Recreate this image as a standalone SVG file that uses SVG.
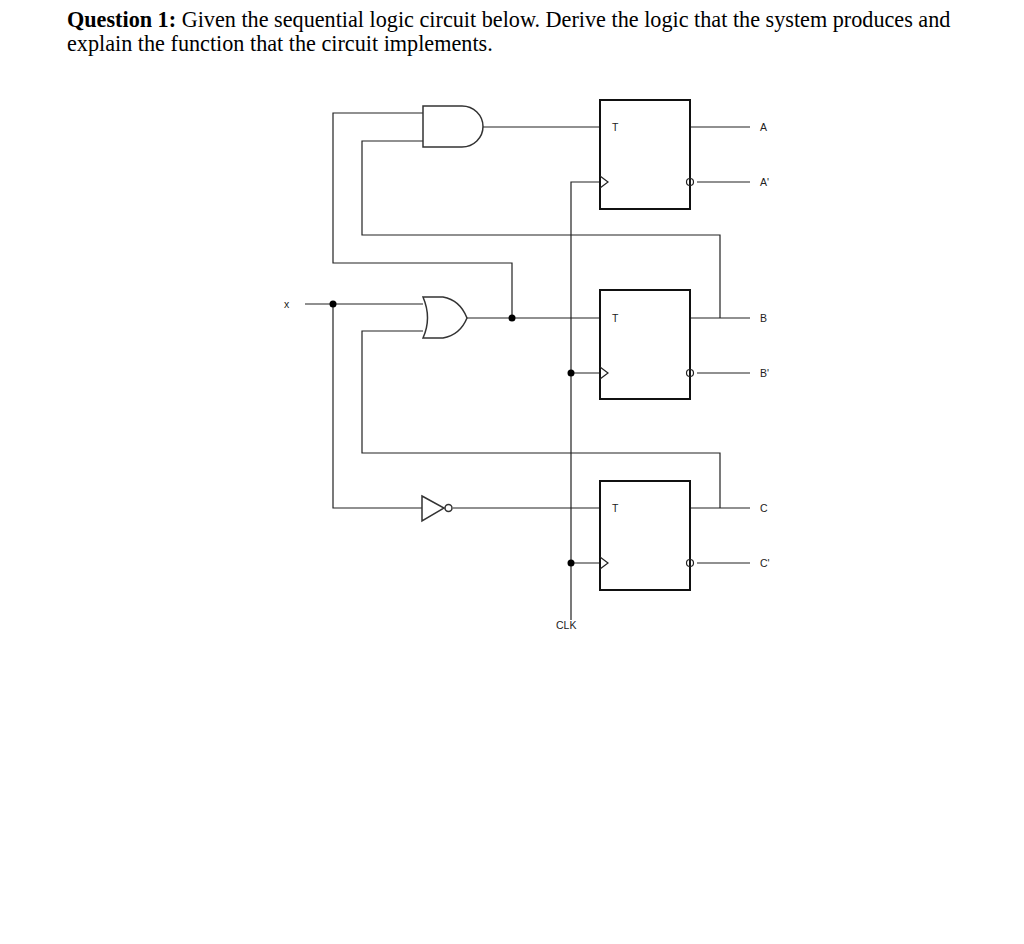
<svg xmlns="http://www.w3.org/2000/svg" width="1024" height="944" viewBox="0 0 1024 944">
<style>
.w{stroke:#222;stroke-width:1.2;fill:none}
.ff{stroke:#111;stroke-width:2;fill:#fff}
.g{stroke:#333;stroke-width:1.5;fill:#fff}
.l{font-family:"Liberation Sans",Arial,sans-serif;font-size:10.5px;fill:#222}
.t{font-family:"Liberation Serif","Times New Roman",serif;font-size:22.2px;fill:#000}
</style>
<rect width="1024" height="944" fill="#fff"/>
<text class="t" x="67" y="27"><tspan font-weight="bold">Question 1:</tspan> Given the sequential logic circuit below. Derive the logic that the system produces and</text>
<text class="t" x="67" y="51">explain the function that the circuit implements.</text>
<g id="connectors">
<path class="w" d="M423 113H333V263H512V318"/>
<path class="w" d="M423 141H362V235H720V318"/>
<path class="w" d="M483 127H600"/>
<path class="w" d="M305 304H423"/>
<path class="w" d="M333 304V508H422"/>
<path class="w" d="M423 331H362V453H720V508"/>
<path class="w" d="M467 318H600"/>
<path class="w" d="M453 508H600"/>
<path class="w" d="M571 620V182H600"/>
<path class="w" d="M571 373H600M571 563H600"/>
<path class="w" d="M690 127H750M697 182H750M690 318H750M697 373H750M690 508H750M697 563H750"/>
<circle cx="333" cy="304" r="3.5" fill="#000"/>
<circle cx="512" cy="318" r="3.5" fill="#000"/>
<circle cx="571" cy="373" r="3.5" fill="#000"/>
<circle cx="571" cy="563" r="3.5" fill="#000"/>
</g>
<g id="and"><path class="g" d="M423 106H462A21 20.5 0 0 1 462 147H423Z"/></g>
<g id="or"><path class="g" d="M423 297H443Q460 300 467 318Q460 335 443 338H423Q432 318 423 297Z"/></g>
<g id="not"><path class="g" d="M422 496L444 508L422 521Z"/><circle class="g" cx="448.5" cy="508" r="3.5"/></g>
<g id="ffA"><rect class="ff" x="600" y="100" width="90" height="109"/><path class="w" d="M600 176L608 182L600 188"/><circle class="w" cx="690" cy="182" r="3.5"/><text class="l" x="612" y="131">T</text></g>
<g id="ffB"><rect class="ff" x="600" y="290" width="90" height="109"/><path class="w" d="M600 367L608 373L600 379"/><circle class="w" cx="690" cy="373" r="3.5"/><text class="l" x="612" y="322">T</text></g>
<g id="ffC"><rect class="ff" x="600" y="481" width="90" height="109"/><path class="w" d="M600 557L608 563L600 569"/><circle class="w" cx="690" cy="563" r="3.5"/><text class="l" x="612" y="512">T</text></g>
<g id="labels">
<text class="l" x="760" y="131">A</text>
<text class="l" x="760" y="186">A'</text>
<text class="l" x="760" y="322">B</text>
<text class="l" x="760" y="377">B'</text>
<text class="l" x="760" y="512">C</text>
<text class="l" x="760" y="567">C'</text>
<text class="l" x="284" y="308">x</text>
<text class="l" x="556" y="629">CLK</text>
</g>
</svg>
